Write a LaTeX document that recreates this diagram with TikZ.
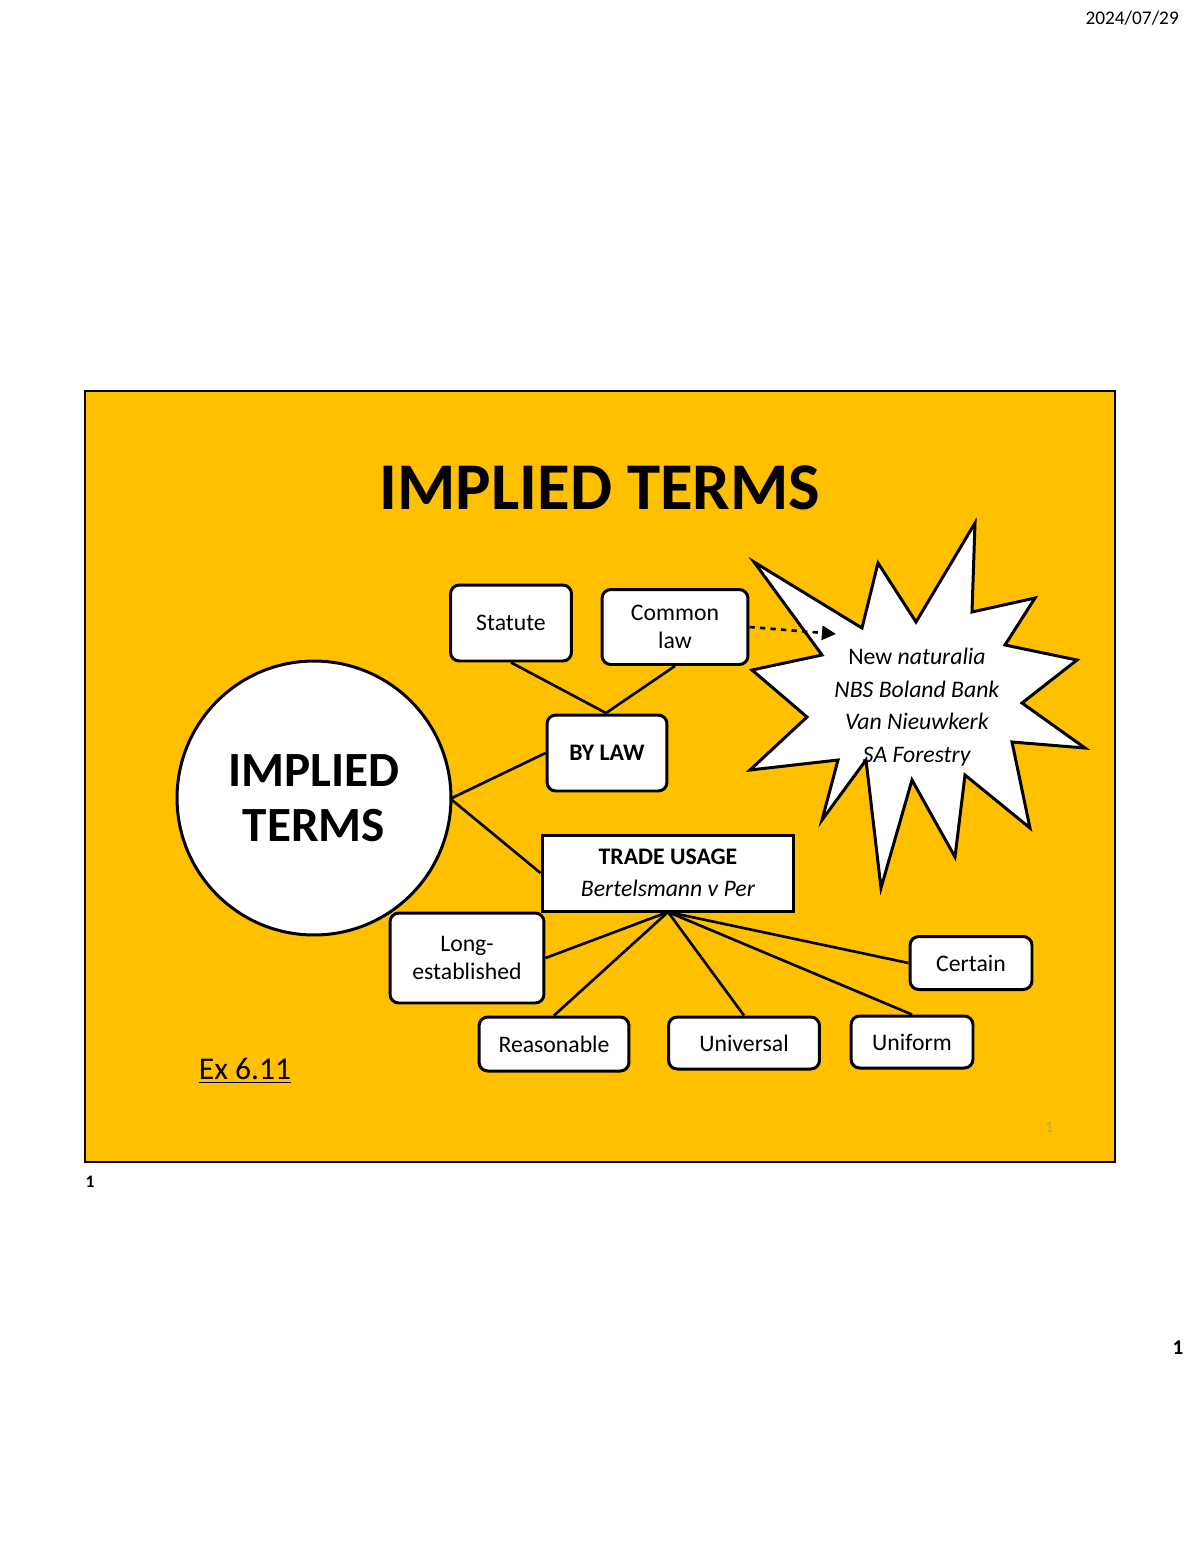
\documentclass[tikz,border=0pt]{standalone}
\usepackage{fontspec}
\setmainfont{Carlito}
\usetikzlibrary{arrows.meta}
\definecolor{slide}{HTML}{FFC000}
\begin{document}
\begin{tikzpicture}[x=0.02cm,y=-0.02cm,
  rbox/.style={draw,line width=1.7pt,fill=white,rounded corners=5pt,align=center,font=\fontsize{13.5}{16}\selectfont,inner sep=0pt},
  conn/.style={line width=1.5pt}]
\useasboundingbox (0,0) rectangle (1200,1553);
\fill[white] (0,0) rectangle (1200,1553);
\node[font=\fontsize{11}{13}\selectfont,anchor=east] (date) at (1185,18) {2024/07/29};
\draw[line width=1.2pt,fill=slide] (85,391) rectangle (1115,1162);
\node[font=\bfseries\fontsize{38}{42}\selectfont] (title) at (600,488) {IMPLIED TERMS};
\node[draw,circle,line width=1.7pt,fill=white,minimum size=274\pgflinewidth,inner sep=0pt,minimum size=5.48cm,align=center,font=\bfseries\fontsize{28}{31}\selectfont] (circ) at (314,798) {IMPLIED\\TERMS};
\node[rbox,minimum width=2.42cm,minimum height=1.52cm] (stat) at (511,623) {Statute};
\node[rbox,minimum width=2.92cm,minimum height=1.5cm] (cl) at (675,627) {Common\\law};
\node[rbox,minimum width=2.4cm,minimum height=1.52cm,font=\bfseries\fontsize{13.5}{16}\selectfont] (bylaw) at (607,753) {BY LAW};
\node[rbox,rounded corners=0pt,minimum width=5.04cm,minimum height=1.52cm] (trade) at (668,873) {\textbf{TRADE USAGE}\\[2pt]\textit{Bertelsmann v Per}};
\node[rbox,minimum width=3.08cm,minimum height=1.8cm] (long) at (467,958) {Long-\\established};
\node[rbox,minimum width=3.0cm,minimum height=1.08cm] (reas) at (554,1044) {Reasonable};
\node[rbox,minimum width=3.02cm,minimum height=1.04cm] (univ) at (744,1043) {Universal};
\node[rbox,minimum width=2.44cm,minimum height=1.04cm] (unif) at (912,1042) {Uniform};
\node[rbox,minimum width=2.44cm,minimum height=1.06cm] (cert) at (971,963) {Certain};
\coordinate (bl) at (606,713);
\draw[conn] (stat.south) -- (bl);
\draw[conn] (cl.south) -- (bl);
\draw[conn] (452,798) -- (bylaw.west);
\draw[conn] (452,800) -- (trade.west);
\coordinate (ts) at (668,912);
\draw[conn] (ts) -- (long.east);
\draw[conn] (ts) -- (reas.north);
\draw[conn] (ts) -- (univ.north);
\draw[conn] (ts) -- (unif.north);
\draw[conn] (ts) -- (cert.west);
\draw[line width=1.7pt,fill=white,line join=miter] (754,562)--(862,628)--(878,563)--(916,622)--(975,523)--(972,612)--(1035,598)--(1005,645)--(1077,660)--(1022,703)--(1085,748)--(1012,742)--(1030,828)--(965,775)--(955,857)--(912,780)--(881,888)--(866,760)--(822,820)--(838,760)--(750,770)--(807,717)--(752,670)--(822,655)--cycle;
\node[align=center,font=\fontsize{13.5}{18.5}\selectfont] (star) at (917,707) {New \textit{naturalia}\\\textit{NBS Boland Bank}\\\textit{Van Nieuwkerk}\\\textit{SA Forestry}};
\coordinate (arr) at (836,634);
\draw[line width=1.5pt,dashed,-{Triangle[length=8pt,width=8pt]}] (cl.east) -- (arr);
\node[font=\fontsize{18}{20}\selectfont] (ex) at (245,1071) {\underline{Ex 6.11}};
\node[font=\fontsize{9}{10}\selectfont,text=black!35] (pg) at (1049,1127) {1};
\node[font=\bfseries\fontsize{10}{11}\selectfont] (n1) at (90,1182) {1};
\node[font=\bfseries\fontsize{12}{13}\selectfont] (n2) at (1178,1348) {1};
\end{tikzpicture}
\end{document}
